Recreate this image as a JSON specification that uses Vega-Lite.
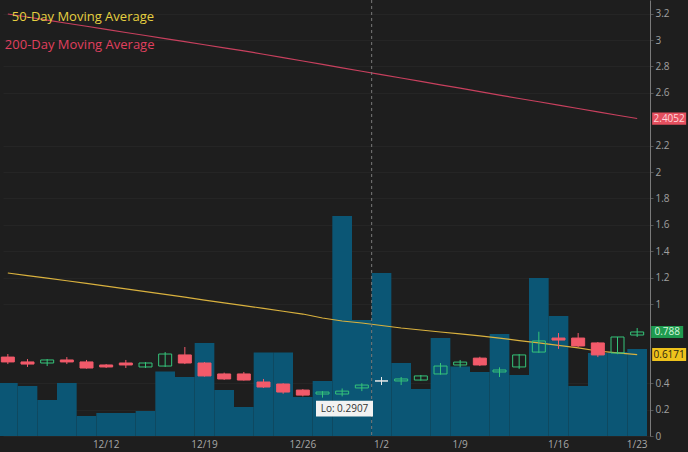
{
  "$schema": "https://vega.github.io/schema/vega-lite/v6.json",
  "width": 650,
  "height": 436,
  "autosize": {"type": "none"},
  "padding": {"left": 0, "top": 0, "right": 38, "bottom": 16},
  "background": "#1e1e1e",
  "config": {"view": {"stroke": null}, "font": "Open Sans"},
  "datasets": {
    "bars": [
      {"date": "2022-12-05", "open": 0.598, "high": 0.621, "low": 0.545, "close": 0.561, "volume": 1060, "ma50": 1.235, "ma200": 3.197},
      {"date": "2022-12-06", "open": 0.561, "high": 0.583, "low": 0.523, "close": 0.545, "volume": 1000, "ma50": 1.215, "ma200": 3.174},
      {"date": "2022-12-07", "open": 0.553, "high": 0.583, "low": 0.53, "close": 0.576, "volume": 720, "ma50": 1.196, "ma200": 3.15},
      {"date": "2022-12-08", "open": 0.576, "high": 0.598, "low": 0.545, "close": 0.561, "volume": 1060, "ma50": 1.176, "ma200": 3.127},
      {"date": "2022-12-09", "open": 0.561, "high": 0.576, "low": 0.51, "close": 0.515, "volume": 400, "ma50": 1.156, "ma200": 3.104},
      {"date": "2022-12-12", "open": 0.538, "high": 0.545, "low": 0.515, "close": 0.523, "volume": 460, "ma50": 1.136, "ma200": 3.081},
      {"date": "2022-12-13", "open": 0.553, "high": 0.576, "low": 0.515, "close": 0.538, "volume": 460, "ma50": 1.115, "ma200": 3.057},
      {"date": "2022-12-14", "open": 0.523, "high": 0.56, "low": 0.515, "close": 0.553, "volume": 500, "ma50": 1.094, "ma200": 3.034},
      {"date": "2022-12-15", "open": 0.53, "high": 0.636, "low": 0.523, "close": 0.621, "volume": 1290, "ma50": 1.073, "ma200": 3.011},
      {"date": "2022-12-16", "open": 0.614, "high": 0.674, "low": 0.545, "close": 0.553, "volume": 1180, "ma50": 1.052, "ma200": 2.988},
      {"date": "2022-12-19", "open": 0.553, "high": 0.56, "low": 0.45, "close": 0.455, "volume": 1860, "ma50": 1.03, "ma200": 2.964},
      {"date": "2022-12-20", "open": 0.47, "high": 0.48, "low": 0.425, "close": 0.432, "volume": 920, "ma50": 1.009, "ma200": 2.941},
      {"date": "2022-12-21", "open": 0.47, "high": 0.485, "low": 0.42, "close": 0.424, "volume": 580, "ma50": 0.988, "ma200": 2.918},
      {"date": "2022-12-22", "open": 0.409, "high": 0.432, "low": 0.364, "close": 0.371, "volume": 1670, "ma50": 0.967, "ma200": 2.892},
      {"date": "2022-12-23", "open": 0.394, "high": 0.4, "low": 0.32, "close": 0.333, "volume": 1670, "ma50": 0.945, "ma200": 2.867},
      {"date": "2022-12-27", "open": 0.348, "high": 0.355, "low": 0.3, "close": 0.31, "volume": 780, "ma50": 0.924, "ma200": 2.841},
      {"date": "2022-12-28", "open": 0.318, "high": 0.34, "low": 0.2907, "close": 0.333, "volume": 1100, "ma50": 0.894, "ma200": 2.815},
      {"date": "2022-12-29", "open": 0.318, "high": 0.36, "low": 0.3, "close": 0.34, "volume": 4400, "ma50": 0.871, "ma200": 2.789},
      {"date": "2022-12-30", "open": 0.364, "high": 0.4, "low": 0.34, "close": 0.386, "volume": 2320, "ma50": 0.856, "ma200": 2.763},
      {"date": "2023-01-03", "open": 0.417, "high": 0.447, "low": 0.386, "close": 0.417, "volume": 3260, "ma50": 0.837, "ma200": 2.738},
      {"date": "2023-01-04", "open": 0.417, "high": 0.447, "low": 0.386, "close": 0.432, "volume": 1460, "ma50": 0.818, "ma200": 2.712},
      {"date": "2023-01-05", "open": 0.424, "high": 0.462, "low": 0.42, "close": 0.455, "volume": 940, "ma50": 0.803, "ma200": 2.686},
      {"date": "2023-01-06", "open": 0.47, "high": 0.553, "low": 0.465, "close": 0.53, "volume": 1960, "ma50": 0.788, "ma200": 2.66},
      {"date": "2023-01-09", "open": 0.538, "high": 0.576, "low": 0.52, "close": 0.56, "volume": 1390, "ma50": 0.773, "ma200": 2.635},
      {"date": "2023-01-10", "open": 0.59, "high": 0.6, "low": 0.53, "close": 0.538, "volume": 1280, "ma50": 0.758, "ma200": 2.609},
      {"date": "2023-01-11", "open": 0.485, "high": 0.52, "low": 0.447, "close": 0.5, "volume": 2040, "ma50": 0.742, "ma200": 2.583},
      {"date": "2023-01-12", "open": 0.523, "high": 0.62, "low": 0.508, "close": 0.614, "volume": 1220, "ma50": 0.723, "ma200": 2.557},
      {"date": "2023-01-13", "open": 0.636, "high": 0.79, "low": 0.63, "close": 0.72, "volume": 3160, "ma50": 0.705, "ma200": 2.532},
      {"date": "2023-01-17", "open": 0.742, "high": 0.78, "low": 0.66, "close": 0.727, "volume": 2400, "ma50": 0.686, "ma200": 2.506},
      {"date": "2023-01-18", "open": 0.742, "high": 0.78, "low": 0.675, "close": 0.682, "volume": 1000, "ma50": 0.667, "ma200": 2.481},
      {"date": "2023-01-19", "open": 0.705, "high": 0.712, "low": 0.598, "close": 0.614, "volume": 1660, "ma50": 0.644, "ma200": 2.456},
      {"date": "2023-01-20", "open": 0.629, "high": 0.75, "low": 0.62, "close": 0.75, "volume": 1680, "ma50": 0.629, "ma200": 2.43},
      {"date": "2023-01-23", "open": 0.765, "high": 0.818, "low": 0.75, "close": 0.788, "volume": 1740, "ma50": 0.6171, "ma200": 2.4052}
    ]
  },
  "data": {"name": "bars"},
  "encoding": {
    "x": {
      "field": "date",
      "type": "ordinal",
      "scale": {"type": "band", "range": [-2, 647], "paddingInner": 0, "paddingOuter": 0},
      "axis": {
        "orient": "bottom",
        "title": null,
        "values": ["2022-12-12", "2022-12-19", "2022-12-27", "2023-01-03", "2023-01-09", "2023-01-17", "2023-01-23"],
        "labelExpr": "datum.value == '2022-12-12' ? '12/12' : datum.value == '2022-12-19' ? '12/19' : datum.value == '2022-12-27' ? '12/26' : datum.value == '2023-01-03' ? '1/2' : datum.value == '2023-01-09' ? '1/9' : datum.value == '2023-01-17' ? '1/16' : datum.value == '2023-01-23' ? '1/23' : ''",
        "labelAngle": 0,
        "labelColor": "#a8a8a8",
        "labelFontSize": 10,
        "labelPadding": 3,
        "domain": false,
        "ticks": false,
        "grid": false
      }
    }
  },
  "layer": [
    {
      "mark": {"type": "bar", "color": "#0b5675"},
      "encoding": {
        "y": {
          "field": "volume",
          "type": "quantitative",
          "scale": {"domain": [0, 8720], "nice": false},
          "axis": {
            "orient": "right",
            "title": null,
            "values": [0, 528, 1056, 2640, 3168, 3696, 4224, 4752, 5280, 5808, 6864, 7392, 7920, 8448],
            "labelExpr": "format(datum.value / 2640, '.1~f')",
            "labelOverlap": false,
            "labelBound": false,
            "labelFlush": false,
            "labelColor": "#a0a0a0",
            "labelFontSize": 10,
            "labelPadding": 2,
            "domainColor": "#7a7a7a",
            "tickColor": "#555555",
            "tickSize": 3,
            "grid": true,
            "gridColor": "#252525"
          }
        }
      }
    },
    {
      "layer": [
        {
          "mark": {"type": "line", "color": "#c8405e", "strokeWidth": 1.2},
          "encoding": {
            "y": {"field": "ma200", "type": "quantitative", "scale": {"domain": [0, 3.303], "nice": false, "zero": true}, "axis": null}
          }
        },
        {
          "mark": {"type": "line", "color": "#d9b13e", "strokeWidth": 1.2},
          "encoding": {"y": {"field": "ma50", "type": "quantitative", "axis": null}}
        },
        {
          "data": {"values": [{"date": "2023-01-03"}]},
          "mark": {"type": "rule", "color": "#7a7a7a", "strokeDash": [3, 3], "strokeWidth": 1},
          "encoding": {"x": {"field": "date", "type": "ordinal", "bandPosition": 0}}
        },
        {
          "mark": {"type": "rule", "strokeWidth": 1},
          "encoding": {
            "y": {"field": "low", "type": "quantitative", "axis": null},
            "y2": {"field": "high"},
            "color": {
              "condition": [
                {"test": "datum.close < datum.open", "value": "#f25a6a"},
                {"test": "datum.close > datum.open", "value": "#35c47a"}
              ],
              "value": "#e8e8e8"
            }
          }
        },
        {
          "mark": {"type": "bar", "size": 13, "strokeWidth": 1},
          "encoding": {
            "y": {"field": "open", "type": "quantitative", "axis": null},
            "y2": {"field": "close"},
            "fill": {
              "condition": {"test": "datum.close < datum.open", "value": "#f25a6a"},
              "value": "transparent"
            },
            "stroke": {
              "condition": [
                {"test": "datum.close < datum.open", "value": "#f25a6a"},
                {"test": "datum.close > datum.open", "value": "#35c47a"}
              ],
              "value": "#e8e8e8"
            }
          }
        },
        {
          "transform": [{"filter": "datum.date == '2023-01-23'"}],
          "mark": {"type": "point", "shape": "M-1,-0.36H1V0.36H-1Z", "size": 1156, "filled": true, "color": "#e5505f", "opacity": 1, "xOffset": 32},
          "encoding": {"y": {"field": "ma200", "type": "quantitative", "axis": null}}
        },
        {
          "transform": [{"filter": "datum.date == '2023-01-23'"}],
          "mark": {"type": "text", "dx": 32, "align": "center", "baseline": "middle", "fontSize": 10, "color": "#ffd6da"},
          "encoding": {"y": {"field": "ma200", "type": "quantitative", "axis": null}, "text": {"field": "ma200", "type": "quantitative", "format": ".4f"}}
        },
        {
          "transform": [{"filter": "datum.date == '2023-01-23'"}],
          "mark": {"type": "point", "shape": "M-1,-0.38H1V0.38H-1Z", "size": 1024, "filled": true, "color": "#1f9a4f", "opacity": 1, "xOffset": 30},
          "encoding": {"y": {"field": "close", "type": "quantitative", "axis": null}}
        },
        {
          "transform": [{"filter": "datum.date == '2023-01-23'"}],
          "mark": {"type": "text", "dx": 30, "align": "center", "baseline": "middle", "fontSize": 10, "color": "#d6f7dc"},
          "encoding": {"y": {"field": "close", "type": "quantitative", "axis": null}, "text": {"field": "close", "type": "quantitative", "format": ".3f"}}
        },
        {
          "transform": [{"filter": "datum.date == '2023-01-23'"}],
          "mark": {"type": "point", "shape": "M-1,-0.38H1V0.38H-1Z", "size": 1156, "filled": true, "color": "#eec21c", "opacity": 1, "xOffset": 32},
          "encoding": {"y": {"field": "ma50", "type": "quantitative", "axis": null}}
        },
        {
          "transform": [{"filter": "datum.date == '2023-01-23'"}],
          "mark": {"type": "text", "dx": 32, "align": "center", "baseline": "middle", "fontSize": 10, "color": "#2a2410"},
          "encoding": {"y": {"field": "ma50", "type": "quantitative", "axis": null}, "text": {"field": "ma50", "type": "quantitative", "format": ".4f"}}
        },
        {
          "transform": [{"filter": "datum.date == '2022-12-28'"}],
          "mark": {"type": "point", "shape": "M-1,-0.28H1V0.28H-1Z", "size": 3249, "filled": true, "color": "#f2f2f2", "opacity": 1, "xOffset": 22, "yOffset": 11},
          "encoding": {"y": {"field": "low", "type": "quantitative", "axis": null}}
        },
        {
          "transform": [{"filter": "datum.date == '2022-12-28'"}],
          "mark": {"type": "text", "text": "Lo: 0.2907", "dx": 22, "dy": 11, "align": "center", "baseline": "middle", "fontSize": 10, "color": "#333333"},
          "encoding": {"y": {"field": "low", "type": "quantitative", "axis": null}}
        },
        {
          "data": {"values": [{"date": "2022-12-05", "price": 3.174, "label": "50-Day Moving Average"}]},
          "mark": {"type": "text", "align": "left", "baseline": "middle", "dx": 4, "fontSize": 13, "color": "#e6d040"},
          "encoding": {"y": {"field": "price", "type": "quantitative", "axis": null}, "text": {"field": "label"}}
        },
        {
          "data": {"values": [{"date": "2022-12-05", "price": 2.962, "label": "200-Day Moving Average"}]},
          "mark": {"type": "text", "align": "left", "baseline": "middle", "dx": -3, "fontSize": 13, "color": "#e0405f"},
          "encoding": {"y": {"field": "price", "type": "quantitative", "axis": null}, "text": {"field": "label"}}
        }
      ]
    }
  ],
  "resolve": {"scale": {"y": "independent"}}
}
